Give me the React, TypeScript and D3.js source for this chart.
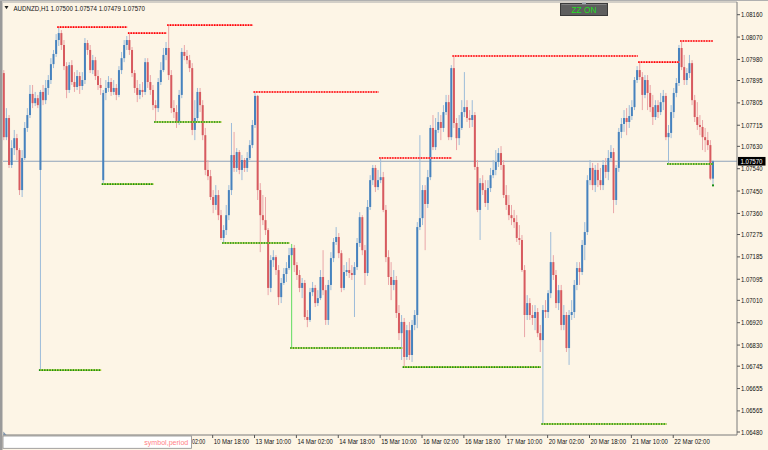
import * as d3 from 'd3';

// MT4 style H1 chart with a ZigZag overlay
const symbol = 'AUDNZD';
const period = 'H1';
const POINT = 0.00001;

// OHLC in points (1.07570 -> 107570)
const opens = [
  107925, 107667, 107744, 107555, 107623, 107663, 107615, 107454, 107583, 107704,
  107756, 107841, 107804, 107824, 107535, 107849, 107816, 107865, 107897, 107961,
  108002, 108058, 108086, 108038, 107953, 107857, 107957, 107889, 107869, 107913,
  107873, 107897, 108046, 108018, 107937, 107977, 107913, 107877, 107494, 107845,
  107865, 107889, 107849, 107865, 107837, 107937, 107985, 108038, 108058, 108018,
  107925, 107865, 107837, 107857, 107849, 107969, 107889, 107857, 107796, 107784,
  107889, 107937, 107998, 108026, 107917, 107784, 107768, 107728, 107837, 108010,
  107994, 107977, 107945, 107696, 107744, 107849, 107796, 107675, 107535, 107510,
  107426, 107394, 107434, 107353, 107261, 107293, 107353, 107454, 107595, 107543,
  107607, 107535, 107575, 107543, 107583, 107635, 107716, 107833, 107454, 107353,
  107333, 107293, 107060, 107172, 107184, 107132, 107023, 107080, 107116, 107140,
  107192, 107221, 107152, 107112, 107060, 107080, 106943, 106931, 107043, 107060,
  106999, 107019, 107104, 107051, 106931, 107072, 107180, 107245, 107265, 107200,
  107060, 107124, 107132, 107120, 107112, 107144, 107241, 107345, 107212, 107120,
  107386, 107494, 107543, 107466, 107494, 107506, 107374, 107184, 107104, 107072,
  107092, 106959, 106878, 106923, 106782, 106890, 106790, 106911, 106951, 107305,
  107341, 107454, 107398, 107506, 107704, 107627, 107696, 107728, 107704, 107768,
  107808, 107667, 107945, 107724, 107663, 107704, 107768, 107788, 107744, 107736,
  107756, 107547, 107374, 107482, 107454, 107402, 107462, 107514, 107535, 107567,
  107603, 107555, 107434, 107394, 107353, 107341, 107325, 107261, 107253, 107132,
  106951, 106999, 106951, 106939, 106963, 106878, 106850, 106971, 106963, 107039,
  107164, 107112, 106999, 107051, 106911, 106951, 106818, 106951, 106963, 107072,
  107140, 107124, 107233, 107285, 107494, 107543, 107474, 107535, 107494, 107474,
  107555, 107527, 107583, 107607, 107414, 107543, 107688, 107720, 107744, 107728,
  107752, 107788, 107897, 107937, 107909, 107837, 107897, 107845, 107788, 107748,
  107796, 107768, 107808, 107833, 107667, 107684, 107768, 107845, 107885, 108026,
  107949, 107897, 107925, 107965, 107816, 107748, 107716, 107708, 107667, 107655,
  107635, 107500,
];

const highs = [
  107937, 107784, 107756, 107655, 107696, 107680, 107623, 107615, 107728, 107784,
  107877, 107877, 107849, 107837, 107857, 107877, 107897, 107917, 107985, 108018,
  108082, 108110, 108098, 108058, 107969, 107969, 107977, 107929, 107937, 107929,
  107929, 108066, 108058, 108038, 107998, 107990, 107937, 107905, 107857, 107897,
  107913, 107905, 107897, 107881, 107953, 108010, 108058, 108074, 108086, 108030,
  107937, 107897, 107881, 107889, 107985, 107985, 107917, 107877, 107816, 107905,
  107969, 108026, 108050, 108118, 107937, 107816, 107796, 107857, 108026, 108038,
  108018, 107998, 107965, 107816, 107865, 107865, 107816, 107704, 107575, 107535,
  107454, 107474, 107454, 107374, 107313, 107394, 107474, 107724, 107688, 107623,
  107615, 107595, 107583, 107607, 107655, 107736, 107849, 107837, 107482, 107434,
  107426, 107301, 107192, 107212, 107192, 107152, 107100, 107140, 107164, 107221,
  107237, 107233, 107164, 107132, 107100, 107092, 106971, 107060, 107084, 107072,
  107051, 107132, 107212, 107072, 107092, 107204, 107261, 107305, 107281, 107212,
  107152, 107164, 107180, 107152, 107164, 107261, 107365, 107353, 107233, 107414,
  107514, 107555, 107555, 107535, 107583, 107527, 107394, 107212, 107164, 107132,
  107108, 106991, 106951, 106939, 106911, 106923, 106931, 106971, 107325, 107675,
  107474, 107474, 107535, 107716, 107756, 107744, 107768, 107756, 107796, 107837,
  107837, 107957, 107994, 107744, 107756, 107816, 107929, 107816, 107776, 107816,
  107768, 107575, 107502, 107514, 107494, 107494, 107543, 107575, 107615, 107623,
  107631, 107575, 107474, 107434, 107394, 107374, 107353, 107313, 107273, 107152,
  107031, 107019, 106991, 106991, 106979, 106911, 106991, 107011, 107051, 107285,
  107192, 107132, 107072, 107072, 106991, 106963, 106971, 107011, 107092, 107164,
  107164, 107253, 107325, 107514, 107575, 107563, 107555, 107563, 107543, 107575,
  107583, 107615, 107635, 107623, 107555, 107704, 107744, 107776, 107784, 107796,
  107816, 107909, 107953, 107969, 107929, 107917, 107917, 107877, 107837, 107816,
  107816, 107845, 107857, 107845, 107716, 107796, 107865, 107905, 108038, 108054,
  107998, 107945, 107998, 107977, 107837, 107808, 107756, 107736, 107704, 107688,
  107655, 107574,
];

const lows = [
  107655, 107655, 107543, 107543, 107595, 107575, 107434, 107426, 107575, 107688,
  107744, 107784, 107792, 107784, 106729, 107796, 107800, 107837, 107881, 107945,
  107990, 108034, 108018, 107937, 107824, 107845, 107877, 107849, 107857, 107841,
  107857, 107881, 107998, 107925, 107921, 107897, 107857, 107837, 107478, 107816,
  107849, 107833, 107837, 107816, 107828, 107921, 107969, 108018, 107998, 107909,
  107845, 107808, 107820, 107828, 107837, 107865, 107837, 107776, 107728, 107768,
  107877, 107929, 107977, 107897, 107764, 107744, 107704, 107716, 107824, 107977,
  107961, 107929, 107675, 107655, 107728, 107768, 107655, 107514, 107494, 107414,
  107361, 107374, 107333, 107253, 107241, 107273, 107333, 107434, 107527, 107527,
  107518, 107494, 107527, 107527, 107575, 107623, 107704, 107414, 107204, 107313,
  107273, 107031, 107043, 107144, 107112, 106991, 106999, 107072, 107084, 107132,
  106818, 107124, 107092, 107043, 107019, 106931, 106902, 106923, 107027, 106983,
  106987, 107011, 107031, 106911, 106911, 107051, 107164, 107233, 107180, 107043,
  107051, 107108, 107100, 107092, 106943, 107132, 107225, 107192, 107072, 107108,
  107374, 107474, 107446, 107454, 107482, 107365, 107164, 107072, 107011, 107051,
  106939, 106850, 106770, 106741, 106770, 106770, 106762, 106890, 106898, 107293,
  107313, 107212, 107382, 107494, 107615, 107615, 107684, 107655, 107688, 107756,
  107655, 107655, 107704, 107615, 107635, 107696, 107748, 107728, 107704, 107708,
  107535, 107365, 107253, 107434, 107386, 107374, 107446, 107502, 107514, 107547,
  107535, 107422, 107374, 107333, 107313, 107301, 107245, 107233, 107124, 106862,
  106931, 106931, 106911, 106890, 106862, 106802, 106512, 106939, 106939, 107019,
  107092, 106979, 106971, 106890, 106890, 106802, 106750, 106931, 106939, 107051,
  107072, 107112, 107172, 107273, 107474, 107454, 107446, 107466, 107454, 107454,
  107502, 107494, 107567, 107361, 107394, 107527, 107663, 107688, 107675, 107704,
  107736, 107776, 107885, 107897, 107776, 107824, 107776, 107768, 107716, 107736,
  107744, 107756, 107776, 107655, 107559, 107663, 107744, 107828, 107873, 107937,
  107877, 107877, 107905, 107796, 107728, 107696, 107675, 107615, 107607, 107615,
  107494, 107479,
];

const closes = [
  107667, 107744, 107555, 107623, 107663, 107615, 107454, 107583, 107704, 107756,
  107841, 107804, 107824, 107796, 107849, 107816, 107865, 107897, 107961, 108002,
  108058, 108086, 108038, 107953, 107857, 107957, 107889, 107869, 107913, 107873,
  107897, 108046, 108018, 107937, 107977, 107913, 107877, 107865, 107845, 107865,
  107889, 107849, 107865, 107837, 107937, 107985, 108038, 108058, 108018, 107925,
  107865, 107837, 107857, 107849, 107969, 107889, 107857, 107796, 107784, 107889,
  107937, 107998, 108026, 107917, 107784, 107768, 107728, 107837, 108010, 107994,
  107977, 107945, 107696, 107744, 107849, 107796, 107675, 107535, 107510, 107426,
  107394, 107434, 107353, 107261, 107293, 107353, 107454, 107595, 107543, 107607,
  107535, 107575, 107543, 107583, 107635, 107716, 107833, 107454, 107353, 107333,
  107293, 107060, 107172, 107184, 107132, 107023, 107080, 107116, 107140, 107192,
  107221, 107152, 107112, 107060, 107080, 106943, 106931, 107043, 107060, 106999,
  107019, 107104, 107051, 106931, 107072, 107180, 107245, 107265, 107200, 107060,
  107124, 107132, 107120, 107112, 107144, 107241, 107345, 107212, 107120, 107386,
  107494, 107543, 107466, 107494, 107506, 107374, 107184, 107104, 107072, 107092,
  106959, 106878, 106923, 106782, 106890, 106790, 106911, 106951, 107305, 107341,
  107454, 107398, 107506, 107704, 107627, 107696, 107728, 107704, 107768, 107808,
  107667, 107945, 107724, 107663, 107704, 107768, 107788, 107744, 107736, 107756,
  107547, 107374, 107482, 107454, 107402, 107462, 107514, 107535, 107567, 107603,
  107555, 107434, 107394, 107353, 107341, 107325, 107261, 107253, 107132, 106951,
  106999, 106951, 106939, 106963, 106878, 106850, 106971, 106963, 107039, 107164,
  107112, 106999, 107051, 106911, 106951, 106818, 106951, 106963, 107072, 107140,
  107124, 107233, 107285, 107494, 107543, 107474, 107535, 107494, 107474, 107555,
  107527, 107583, 107607, 107414, 107543, 107688, 107720, 107744, 107728, 107752,
  107788, 107897, 107937, 107909, 107837, 107897, 107845, 107788, 107748, 107796,
  107768, 107808, 107833, 107667, 107684, 107768, 107845, 107885, 108026, 107949,
  107897, 107925, 107965, 107816, 107748, 107716, 107708, 107667, 107655, 107635,
  107500, 107570,
];

// zigzag pivots (bar indexes)
const zzHighBars = [21, 48, 63, 96, 144, 172, 243, 259];
const zzLowBars = [14, 38, 58, 84, 110, 153, 206, 254];
const greenWickBars = [110];

const priceTicks = [
  1.0816, 1.0807, 1.0798, 1.07895, 1.07805, 1.07715, 1.0763, 1.0754, 1.0745, 1.0736,
  1.07275, 1.07185, 1.07095, 1.0701, 1.0692, 1.0683, 1.06745, 1.06655, 1.06565, 1.0648,
];

const timeTickBars = [64, 80, 96, 112, 128, 144, 160, 176, 192, 208, 224, 240, 256];
const timeTickLabels = [
  '10 Mar 02:00', '10 Mar 18:00', '13 Mar 10:00', '14 Mar 02:00', '14 Mar 18:00',
  '15 Mar 10:00', '16 Mar 02:00', '16 Mar 18:00', '17 Mar 10:00', '20 Mar 02:00',
  '20 Mar 18:00', '21 Mar 10:00', '22 Mar 02:00',
];

const W = 768;
const H = 450;
const plotLeft = 3;
const plotRight = 737;
const plotTop = 2;
const plotBottom = 435;
const boxRight = 191.5; // symbol input box covers the axis up to here

const BG = '#fdf5e6';
const BULL = '#4682be';
const BEAR = '#d75a5f';
const BULL_WICK = '#9dbcd9';
const BEAR_WICK = '#eaa6a8';
const FONT = 'Liberation Sans, Arial, sans-serif';
const LABEL_W = 35.5;

export default function App() {
  const n = closes.length;
  const x = d3.scaleLinear().domain([0, n - 1]).range([3.3, 712.5]);
  const y = d3.scaleLinear().domain([1.0648, 1.0816]).range([432, 14.7]);
  const py = (p: number) => y(p * POINT);
  const fmt = d3.format('.5f');

  const last = n - 1;
  const lastClose = closes[last] * POINT;
  const title = `${symbol},${period} ${fmt(opens[last] * POINT)} ${fmt(highs[last] * POINT)} ${fmt(lows[last] * POINT)} ${fmt(lastClose)}`;

  const zzSegments = (bars: number[], vals: number[]) =>
    bars.map((b, k) => ({
      x1: x(b) - 1,
      x2: k < bars.length - 1 ? x(bars[k + 1]) - 1.5 : x(last) + 0.5,
      y: py(vals[b]),
    }));
  const highSegs = zzSegments(zzHighBars, highs);
  const lowSegs = zzSegments(zzLowBars, lows);

  return (
    <svg
      width={W}
      height={H}
      style={{ position: 'fixed', left: 0, top: 0, display: 'block' }}
      fontFamily={FONT}
    >
      <rect x={0} y={0} width={W} height={H} fill={BG} />

      {/* price line */}
      <line x1={plotLeft} x2={plotRight} y1={y(lastClose)} y2={y(lastClose)} stroke="#8ea3ba" strokeWidth={1} />

      {/* candles */}
      <g>
        {closes.map((c, i) => {
          const o = opens[i];
          const up = c >= o;
          const cx = x(i) + 0.5;
          const top = py(Math.max(o, c));
          const bot = py(Math.min(o, c));
          const green = greenWickBars.includes(i);
          return (
            <g key={i}>
              <line
                x1={cx}
                x2={cx}
                y1={py(highs[i])}
                y2={py(lows[i])}
                stroke={green ? '#5fdc5f' : up ? BULL_WICK : BEAR_WICK}
                strokeWidth={1}
              />
              <rect x={cx - 1} y={top} width={2} height={Math.max(1, bot - top)} fill={up ? BULL : BEAR} />
            </g>
          );
        })}
      </g>

      {/* zigzag levels */}
      <g>
        {highSegs.map((s, k) => (
          <g key={'h' + k}>
            <line x1={s.x1} x2={s.x2} y1={s.y} y2={s.y} stroke="#ff9c9c" strokeWidth={1.6} />
            <line x1={s.x1} x2={s.x2} y1={s.y} y2={s.y} stroke="#ff0000" strokeWidth={1.6} strokeDasharray="1.4 1.2" />
          </g>
        ))}
        {lowSegs.map((s, k) => (
          <g key={'l' + k}>
            <line x1={s.x1} x2={s.x2} y1={s.y} y2={s.y} stroke="#b2d23a" strokeWidth={1.6} />
            <line x1={s.x1} x2={s.x2} y1={s.y} y2={s.y} stroke="#168c16" strokeWidth={1.6} strokeDasharray="1.4 1.2" />
          </g>
        ))}
        <rect x={x(last) - 0.5} y={py(lows[last]) + 0.5} width={2} height={2} fill="#168c16" />
      </g>

      {/* frame */}
      <rect x={0} y={0} width={2.5} height={H} fill="#9a9a9a" />
      <line x1={0} x2={W} y1={0.5} y2={0.5} stroke="#b0b0b0" />
      <line x1={plotLeft} x2={plotRight} y1={plotTop} y2={plotTop} stroke="#a8a8a8" />
      <line x1={plotRight} x2={plotRight} y1={plotTop} y2={plotBottom} stroke="#7a7a7a" />
      <line x1={plotLeft} x2={plotRight} y1={plotBottom} y2={plotBottom} stroke="#7a7a7a" />

      {/* price axis */}
      <g fontSize={7} fill="#111">
        {priceTicks.map((p) => (
          <g key={p}>
            <line x1={plotRight} x2={plotRight + 3} y1={y(p)} y2={y(p)} stroke="#555" />
            <text x={741} y={y(p) + 2.5} textLength={21.5} lengthAdjust="spacingAndGlyphs">
              {fmt(p)}
            </text>
          </g>
        ))}
        <rect x={738} y={y(lastClose) - 4.3} width={27.5} height={8.6} fill="#000" />
        <text x={740.5} y={y(lastClose) + 2.5} fill="#fff" textLength={22} lengthAdjust="spacingAndGlyphs">
          {fmt(lastClose)}
        </text>
      </g>

      {/* time axis; a label that starts under the input box shows only its time part */}
      <g fontSize={7} fill="#111">
        {timeTickBars.map((b, k) => {
          const lx = x(b) + 1;
          const hidden = lx < boxRight;
          const txt = hidden ? timeTickLabels[k].split(' ').pop() : timeTickLabels[k];
          return (
            <g key={b}>
              {!hidden && <line x1={x(b)} x2={x(b)} y1={plotBottom} y2={plotBottom + 3} stroke="#555" />}
              {hidden ? (
                <text x={lx + LABEL_W - 2} y={444} textAnchor="end" textLength={13.3} lengthAdjust="spacingAndGlyphs">
                  {txt}
                </text>
              ) : (
                <text x={lx} y={444} textLength={LABEL_W} lengthAdjust="spacingAndGlyphs">
                  {txt}
                </text>
              )}
            </g>
          );
        })}
      </g>

      {/* symbol input box */}
      <rect x={3} y={436} width={boxRight - 3} height={12.3} fill="#fff" stroke="#8a8a8a" strokeWidth={0.8} />
      <text x={188.3} y={445} fontSize={7} fill="#ff7f86" textAnchor="end" textLength={44} lengthAdjust="spacingAndGlyphs">
        symbol,period
      </text>
      <path d="M3.3,431.5 L6.5,435 L3.3,435 Z" fill="#7f93aa" />

      {/* header */}
      <path d="M4.5,6 L8.5,6 L6.5,9.3 Z" fill="#222" />
      <text x={13.5} y={11} fontSize={7} fill="#111" textLength={131.5} lengthAdjust="spacingAndGlyphs">
        {title}
      </text>

      {/* ZZ ON button */}
      <rect x={560.5} y={3.5} width={47} height={12} fill="#5e5e5e" stroke="#3a3a3a" strokeWidth={1} />
      <line x1={561.5} x2={606.5} y1={4.5} y2={4.5} stroke="#8a8a8a" strokeWidth={0.8} />
      <rect x={582} y={2.5} width={4} height={1.5} fill="#9aa4ad" />
      <text x={584} y={12.6} fontSize={9} fill="#22dd22" textAnchor="middle" textLength={25} lengthAdjust="spacingAndGlyphs">
        ZZ ON
      </text>
    </svg>
  );
}
